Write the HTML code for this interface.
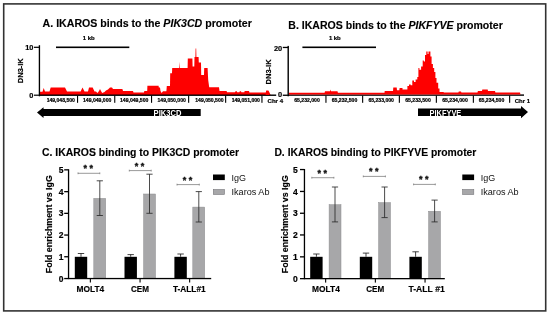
<!DOCTYPE html>
<html lang="en">
<head>
<meta charset="utf-8">
<title>IKAROS binding figure</title>
<style>
html,body{margin:0;padding:0;background:#fff;}
body{width:550px;height:316px;overflow:hidden;}
svg{display:block;}
text{font-family:"Liberation Sans",Arial,Helvetica,sans-serif;fill:#000;}
.b{font-weight:bold;}
.t{font-weight:bold;font-size:10px;stroke:#000;stroke-width:0.12px;}
.i{font-style:italic;}
.xl{font-weight:bold;font-size:5.1px;stroke:#000;stroke-width:0.2px;}
.chr{font-weight:bold;font-size:6.1px;stroke:#000;stroke-width:0.2px;}
.yn{font-weight:bold;font-size:7.4px;stroke:#000;stroke-width:0.2px;}
.kb{font-weight:bold;font-size:5.9px;stroke:#000;stroke-width:0.2px;}
.dn{font-weight:bold;font-size:7.6px;stroke:#000;stroke-width:0.2px;}
.gene{font-weight:bold;font-size:8.2px;fill:#fff;}
.ax{font-weight:bold;font-size:8.5px;stroke:#000;stroke-width:0.2px;}
.cat{font-weight:bold;font-size:8.4px;stroke:#000;stroke-width:0.15px;}
.yl{font-weight:bold;font-size:8.8px;stroke:#000;stroke-width:0.15px;}
.lg{font-size:8.7px;fill:#111;}
.st{font-weight:bold;font-size:9px;fill:#111;stroke:#111;stroke-width:0.35px;}
</style>
</head>
<body>
<svg width="550" height="316" viewBox="0 0 550 316">
<defs><filter id="bl" x="0" y="0" width="550" height="316" filterUnits="userSpaceOnUse"><feGaussianBlur stdDeviation="0.4"/></filter></defs>
<g filter="url(#bl)">
<rect x="-5" y="-5" width="560" height="326" fill="#fff"/>
<rect x="3.7" y="3.9" width="542" height="307" fill="none" stroke="#333" stroke-width="1.6"/>
<!-- Panel A -->
<text class="t" x="42.6" y="26.8" textLength="209.2" lengthAdjust="spacingAndGlyphs">A. IKAROS binds to the <tspan class="i">PIK3CD</tspan> promoter</text>
<text class="kb" x="88.7" y="40" text-anchor="middle">1 kb</text>
<rect x="56" y="46.5" width="73.3" height="1.6" fill="#000"/>
<polygon fill="#fe0000" points="40.0,95.0 40.0,91.7 42.5,91.7 43.7,87.9 45.0,91.5 49.5,91.5 50.7,87.6 65.0,87.6 67.0,91.5 80.6,91.5 82.5,87.6 84.5,91.5 88.0,91.5 89.0,87.6 92.7,87.6 94.5,91.5 96.0,91.5 97.5,93.0 99.0,91.0 100.0,89.0 101.0,91.0 102.2,93.0 104.5,92.0 106.0,90.5 108.0,89.5 110.0,87.6 112.0,87.6 113.0,89.0 122.4,89.0 123.0,91.0 133.0,91.0 133.5,92.6 144.0,92.6 144.3,91.0 147.2,91.0 147.4,85.8 158.6,85.8 158.8,87.5 160.0,87.5 160.5,91.0 161.6,93.0 163.0,91.2 166.4,91.2 166.8,86.0 170.0,86.0 170.2,73.2 172.0,73.2 172.2,68.0 179.0,68.0 179.3,61.8 179.7,68.0 187.6,68.0 187.8,58.6 192.4,58.6 192.6,66.6 194.3,66.6 194.5,57.0 195.4,57.0 195.6,48.5 196.2,48.5 196.4,57.0 198.6,57.0 198.8,62.4 201.0,62.4 201.2,75.0 204.0,75.0 204.2,68.0 207.6,68.0 208.2,80.0 209.2,87.2 219.0,87.2 219.5,91.0 226.6,91.0 227.0,92.2 235.0,92.2 235.5,91.2 236.8,91.2 237.2,92.2 239.4,92.2 239.8,91.2 241.0,91.2 241.4,92.2 244.3,92.2 244.7,91.0 249.0,91.0 249.4,92.5 265.8,92.5 266.2,90.5 268.4,90.5 269.5,92.5 270.6,95.0"/>
<rect x="38.75" y="45.2" width="1.35" height="51.1" fill="#000"/>
<rect x="34" y="46.7" width="5.5" height="1.2" fill="#000"/>
<rect x="34" y="94.6" width="5.5" height="1.2" fill="#000"/>
<rect x="39" y="94.5" width="237.2" height="1.4" fill="#000"/>
<text class="yn" x="33.4" y="50.1" text-anchor="end">10</text>
<text class="yn" x="33.4" y="97.8" text-anchor="end">0</text>
<text class="dn" transform="translate(23.2,70.7) rotate(-90)" text-anchor="middle" textLength="25" lengthAdjust="spacingAndGlyphs">DN3-IK</text>
<rect x="77.0" y="95.5" width="1.1" height="7.3" fill="#000"/>
<rect x="114.2" y="95.5" width="1.1" height="7.3" fill="#000"/>
<rect x="151.0" y="95.5" width="1.1" height="7.3" fill="#000"/>
<rect x="188.1" y="95.5" width="1.1" height="7.3" fill="#000"/>
<rect x="225.1" y="95.5" width="1.1" height="7.3" fill="#000"/>
<rect x="261.4" y="95.5" width="1.1" height="7.3" fill="#000"/>
<text class="xl" x="60.8" y="101.9" text-anchor="middle">149,048,500</text>
<text class="xl" x="97.2" y="101.9" text-anchor="middle">149,049,000</text>
<text class="xl" x="134.2" y="101.9" text-anchor="middle">149,049,500</text>
<text class="xl" x="171.7" y="101.9" text-anchor="middle">149,050,000</text>
<text class="xl" x="209.4" y="101.9" text-anchor="middle">149,050,500</text>
<text class="xl" x="245.8" y="101.9" text-anchor="middle">149,051,000</text>
<text class="chr" x="267.5" y="102.7" textLength="15.5" lengthAdjust="spacingAndGlyphs">Chr 4</text>
<polygon fill="#fe0000" points="265.5,95 266.3,93 268.6,93 269.6,95"/>
<polygon fill="#000" points="37,112.6 43.5,107.2 43.6,109.1 200.7,109.1 200.7,116 43.6,116 43.5,118"/>
<text class="gene" x="153.6" y="115.9" textLength="27.8" lengthAdjust="spacingAndGlyphs">PIK3CD</text>
<!-- Panel B -->
<text class="t" x="288.3" y="28.8" textLength="214.5" lengthAdjust="spacingAndGlyphs">B. IKAROS binds to the <tspan class="i">PIKFYVE</tspan> promoter</text>
<text class="kb" x="334.8" y="39.8" text-anchor="middle">1 kb</text>
<rect x="302.4" y="46.5" width="73.6" height="1.6" fill="#000"/>
<rect x="288" y="94.4" width="236" height="1.4" fill="#000"/>
<polygon fill="#fe0000" points="288.9,94.6 288.9,92.7 324.6,92.7 325.0,91.2 330.0,91.2 330.5,89.6 331.0,91.2 337.5,91.2 337.9,92.7 380.0,92.7 384.5,92.7 384.7,90.9 393.0,90.9 393.3,87.4 396.7,87.4 397.0,90.3 399.3,90.3 399.6,88.0 400.0,88.1 402.5,88.1 402.5,89.4 407.4,89.4 407.4,86.1 409.0,86.1 409.0,84.5 410.7,84.5 410.7,85.3 412.3,85.3 412.3,80.4 414.0,80.4 414.0,82.0 415.6,82.0 415.6,79.5 417.3,79.5 417.3,77.1 418.4,77.1 418.4,68.0 419.4,68.0 419.4,69.7 421.1,69.7 421.1,66.4 422.7,66.4 422.7,60.6 423.8,60.6 423.8,61.4 425.0,61.4 425.0,54.9 426.3,54.9 426.3,51.6 427.6,51.6 427.6,54.0 428.5,54.0 428.5,51.6 430.4,51.6 430.4,56.5 431.6,56.5 431.6,63.9 432.9,63.9 432.9,68.0 434.2,68.0 434.2,72.1 435.4,72.1 435.4,77.9 436.5,77.9 436.5,82.8 438.2,82.8 438.2,88.6 439.5,88.6 439.5,91.9 443.6,91.9 443.8,92.6 458.4,92.6 458.8,91.4 461.0,91.4 461.4,92.6 477.5,92.6 477.9,91.0 482.0,91.0 482.3,89.6 487.7,89.6 488.0,91.0 495.0,91.0 495.4,92.6 520.0,92.6 520.5,94.6"/>
<rect x="287.5" y="45.9" width="1.4" height="50.4" fill="#000"/>
<rect x="282.8" y="46.8" width="5.5" height="1.3" fill="#000"/>
<rect x="282.8" y="94.6" width="5.5" height="1.3" fill="#000"/>
<text class="yn" x="282.2" y="50.6" text-anchor="end">20</text>
<text class="dn" transform="translate(271.1,71.9) rotate(-90)" text-anchor="middle" textLength="25" lengthAdjust="spacingAndGlyphs">DN3-IK</text>
<text class="yn" x="282.1" y="97.4" text-anchor="end">0</text>
<rect x="325.4" y="95.5" width="1.1" height="7.3" fill="#000"/>
<rect x="362.1" y="95.5" width="1.1" height="7.3" fill="#000"/>
<rect x="398.8" y="95.5" width="1.1" height="7.3" fill="#000"/>
<rect x="435.8" y="95.5" width="1.1" height="7.3" fill="#000"/>
<rect x="472.8" y="95.5" width="1.1" height="7.3" fill="#000"/>
<rect x="509.1" y="95.5" width="1.1" height="7.3" fill="#000"/>
<text class="xl" x="307.0" y="101.9" text-anchor="middle">65,232,000</text>
<text class="xl" x="344.5" y="101.9" text-anchor="middle">65,232,500</text>
<text class="xl" x="381.2" y="101.9" text-anchor="middle">65,233,000</text>
<text class="xl" x="418.0" y="101.9" text-anchor="middle">65,233,500</text>
<text class="xl" x="455.0" y="101.9" text-anchor="middle">65,234,000</text>
<text class="xl" x="491.5" y="101.9" text-anchor="middle">65,234,500</text>
<text class="chr" x="514.8" y="102.7" textLength="15.3" lengthAdjust="spacingAndGlyphs">Chr 1</text>
<polygon fill="#000" points="418,108.4 521,108.4 521,106 528,112.1 521,118.2 521,115.9 418,115.9"/>
<clipPath id="cb"><rect x="418" y="108.4" width="110" height="7.5"/></clipPath>
<text class="gene" clip-path="url(#cb)" x="429.6" y="116.2" textLength="31.7" lengthAdjust="spacingAndGlyphs">PIKFYVE</text>
<!-- Panel C -->
<text class="t" x="42.0" y="156" textLength="197.0" lengthAdjust="spacingAndGlyphs">C. IKAROS binding to PIK3CD promoter</text>
<rect x="74.8" y="256.8" width="12.4" height="21.7" fill="#000"/>
<path d="M81.0 256.8V253.5M77.8 253.5H84.2" stroke="#222" stroke-width="0.85" fill="none"/>
<rect x="93.8" y="198.4" width="11.9" height="80.1" fill="#a7a7a9" stroke="#8c8c8e" stroke-width="0.5"/>
<path d="M99.8 180.8V215.5M96.7 180.8H102.9M96.7 215.5H102.9" stroke="#2a2a2a" stroke-width="0.85" fill="none"/>
<rect x="124.5" y="256.8" width="12.4" height="21.7" fill="#000"/>
<path d="M130.7 256.8V254.6M127.5 254.6H133.9" stroke="#222" stroke-width="0.85" fill="none"/>
<rect x="143.6" y="194.0" width="11.9" height="84.5" fill="#a7a7a9" stroke="#8c8c8e" stroke-width="0.5"/>
<path d="M149.5 174.2V213.3M146.4 174.2H152.6M146.4 213.3H152.6" stroke="#2a2a2a" stroke-width="0.85" fill="none"/>
<rect x="174.4" y="256.8" width="12.4" height="21.7" fill="#000"/>
<path d="M180.6 256.8V254.0M177.4 254.0H183.8" stroke="#222" stroke-width="0.85" fill="none"/>
<rect x="192.8" y="207.1" width="11.9" height="71.4" fill="#a7a7a9" stroke="#8c8c8e" stroke-width="0.5"/>
<path d="M198.8 191.6V222.0M195.7 191.6H201.9M195.7 222.0H201.9" stroke="#2a2a2a" stroke-width="0.85" fill="none"/>
<rect x="67.9" y="169.3" width="1.3" height="109.8" fill="#000"/>
<rect x="64.2" y="277.9" width="147.0" height="1.3" fill="#000"/>
<text class="ax" x="63.4" y="281.6" text-anchor="end">0</text>
<rect x="64.2" y="256.1" width="4.4" height="1.3" fill="#000"/>
<text class="ax" x="63.4" y="259.9" text-anchor="end">1</text>
<rect x="64.2" y="234.4" width="4.4" height="1.3" fill="#000"/>
<text class="ax" x="63.4" y="238.2" text-anchor="end">2</text>
<rect x="64.2" y="212.7" width="4.4" height="1.3" fill="#000"/>
<text class="ax" x="63.4" y="216.4" text-anchor="end">3</text>
<rect x="64.2" y="191.0" width="4.4" height="1.3" fill="#000"/>
<text class="ax" x="63.4" y="194.7" text-anchor="end">4</text>
<rect x="64.2" y="169.2" width="4.4" height="1.3" fill="#000"/>
<text class="ax" x="63.4" y="173.0" text-anchor="end">5</text>
<rect x="89.8" y="278.5" width="1.1" height="4" fill="#000"/>
<rect x="139.5" y="278.5" width="1.1" height="4" fill="#000"/>
<rect x="189.1" y="278.5" width="1.1" height="4" fill="#000"/>
<text class="cat" x="90.3" y="292.1" text-anchor="middle" textLength="27.8" lengthAdjust="spacingAndGlyphs">MOLT4</text>
<text class="cat" x="140.0" y="292.1" text-anchor="middle" textLength="18.0" lengthAdjust="spacingAndGlyphs">CEM</text>
<text class="cat" x="189.3" y="292.1" text-anchor="middle" textLength="32.7" lengthAdjust="spacingAndGlyphs">T-ALL#1</text>
<text class="yl" transform="translate(52.4,224.2) rotate(-90)" text-anchor="middle" textLength="98" lengthAdjust="spacingAndGlyphs">Fold enrichment vs IgG</text>
<path d="M78.0 173.3H99.8M78.0 172.4V174.2M99.8 172.4V174.2" stroke="#6e6e6e" stroke-width="0.7" fill="none"/>
<text class="st" x="88.2" y="171.2" text-anchor="middle">* *</text>
<path d="M129.3 170.6H151.2M129.3 169.7V171.5M151.2 169.7V171.5" stroke="#6e6e6e" stroke-width="0.7" fill="none"/>
<text class="st" x="139.6" y="168.5" text-anchor="middle">* *</text>
<path d="M177.0 184.6H199.3M177.0 183.7V185.5M199.3 183.7V185.5" stroke="#6e6e6e" stroke-width="0.7" fill="none"/>
<text class="st" x="187.5" y="182.5" text-anchor="middle">* *</text>
<rect x="213.0" y="174.5" width="11.8" height="5.6" fill="#000"/>
<rect x="213.3" y="189.5" width="11.2" height="5" fill="#a7a7a9" stroke="#77777a" stroke-width="0.6"/>
<text class="lg" x="231.5" y="180.5" textLength="14.5" lengthAdjust="spacingAndGlyphs">IgG</text>
<text class="lg" x="231.5" y="195.1" textLength="38" lengthAdjust="spacingAndGlyphs">Ikaros Ab</text>
<!-- Panel D -->
<text class="t" x="274.4" y="156" textLength="202.0" lengthAdjust="spacingAndGlyphs">D. IKAROS binding to PIKFYVE promoter</text>
<rect x="310.2" y="256.8" width="12.4" height="21.8" fill="#000"/>
<path d="M316.4 256.8V254.0M313.2 254.0H319.6" stroke="#222" stroke-width="0.85" fill="none"/>
<rect x="329.1" y="204.7" width="11.9" height="73.9" fill="#a7a7a9" stroke="#8c8c8e" stroke-width="0.5"/>
<path d="M335.0 187.0V221.9M331.9 187.0H338.1M331.9 221.9H338.1" stroke="#2a2a2a" stroke-width="0.85" fill="none"/>
<rect x="359.8" y="256.8" width="12.4" height="21.8" fill="#000"/>
<path d="M366.0 256.8V253.1M362.8 253.1H369.2" stroke="#222" stroke-width="0.85" fill="none"/>
<rect x="378.6" y="202.6" width="11.9" height="76.1" fill="#a7a7a9" stroke="#8c8c8e" stroke-width="0.5"/>
<path d="M384.6 187.0V217.6M381.5 187.0H387.7M381.5 217.6H387.7" stroke="#2a2a2a" stroke-width="0.85" fill="none"/>
<rect x="409.4" y="256.8" width="12.4" height="21.8" fill="#000"/>
<path d="M415.6 256.8V251.8M412.4 251.8H418.8" stroke="#222" stroke-width="0.85" fill="none"/>
<rect x="428.6" y="211.3" width="11.9" height="67.3" fill="#a7a7a9" stroke="#8c8c8e" stroke-width="0.5"/>
<path d="M434.6 200.1V221.9M431.5 200.1H437.7M431.5 221.9H437.7" stroke="#2a2a2a" stroke-width="0.85" fill="none"/>
<rect x="303.8" y="169.0" width="1.3" height="110.2" fill="#000"/>
<rect x="300.0" y="278.0" width="144.8" height="1.3" fill="#000"/>
<text class="ax" x="297.7" y="281.7" text-anchor="end">0</text>
<rect x="300.0" y="256.2" width="4.4" height="1.3" fill="#000"/>
<text class="ax" x="297.7" y="259.9" text-anchor="end">1</text>
<rect x="300.0" y="234.3" width="4.4" height="1.3" fill="#000"/>
<text class="ax" x="297.7" y="238.1" text-anchor="end">2</text>
<rect x="300.0" y="212.6" width="4.4" height="1.3" fill="#000"/>
<text class="ax" x="297.7" y="216.3" text-anchor="end">3</text>
<rect x="300.0" y="190.8" width="4.4" height="1.3" fill="#000"/>
<text class="ax" x="297.7" y="194.5" text-anchor="end">4</text>
<rect x="300.0" y="168.9" width="4.4" height="1.3" fill="#000"/>
<text class="ax" x="297.7" y="172.7" text-anchor="end">5</text>
<rect x="325.1" y="278.6" width="1.1" height="4" fill="#000"/>
<rect x="374.8" y="278.6" width="1.1" height="4" fill="#000"/>
<rect x="424.5" y="278.6" width="1.1" height="4" fill="#000"/>
<text class="cat" x="325.9" y="292.1" text-anchor="middle" textLength="27.8" lengthAdjust="spacingAndGlyphs">MOLT4</text>
<text class="cat" x="375.2" y="292.1" text-anchor="middle" textLength="18.0" lengthAdjust="spacingAndGlyphs">CEM</text>
<text class="cat" x="426.6" y="292.1" text-anchor="middle" textLength="36.3" lengthAdjust="spacingAndGlyphs">T-ALL #1</text>
<text class="yl" transform="translate(287.6,224.2) rotate(-90)" text-anchor="middle" textLength="98" lengthAdjust="spacingAndGlyphs">Fold enrichment vs IgG</text>
<path d="M311.8 177.7H333.9M311.8 176.8V178.6M333.9 176.8V178.6" stroke="#6e6e6e" stroke-width="0.7" fill="none"/>
<text class="st" x="322.2" y="175.6" text-anchor="middle">* *</text>
<path d="M363.3 176.4H385.4M363.3 175.5V177.3M385.4 175.5V177.3" stroke="#6e6e6e" stroke-width="0.7" fill="none"/>
<text class="st" x="373.7" y="174.3" text-anchor="middle">* *</text>
<path d="M413.6 184.4H435.3M413.6 183.5V185.3M435.3 183.5V185.3" stroke="#6e6e6e" stroke-width="0.7" fill="none"/>
<text class="st" x="423.8" y="182.3" text-anchor="middle">* *</text>
<rect x="462.3" y="174.5" width="11.8" height="5.6" fill="#000"/>
<rect x="462.6" y="189.5" width="11.2" height="5" fill="#a7a7a9" stroke="#77777a" stroke-width="0.6"/>
<text class="lg" x="480.7" y="180.5" textLength="14.5" lengthAdjust="spacingAndGlyphs">IgG</text>
<text class="lg" x="480.7" y="195.1" textLength="38" lengthAdjust="spacingAndGlyphs">Ikaros Ab</text>
</g>
</svg>
</body>
</html>
